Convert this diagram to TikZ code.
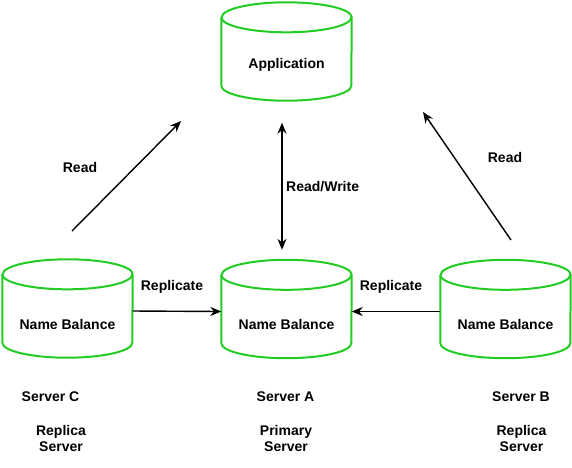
\documentclass[tikz,border=0pt]{standalone}
\usepackage{fontspec}
\setmainfont{Liberation Sans}
\usetikzlibrary{arrows.meta}
\definecolor{cylgreen}{RGB}{34,204,34}
\tikzset{
  cylbox/.style={rectangle, minimum width=130pt, minimum height=98pt, inner sep=0pt},
  cylline/.style={draw=cylgreen, line width=2pt},
  txt/.style={font=\fontsize{14}{16}\selectfont\bfseries, inner sep=0pt, align=center},
  arr/.style={line width=1.4pt, -{Stealth[length=11pt,width=9pt]}},
  darr/.style={line width=1.4pt, {Stealth[length=11pt,width=9pt]}-{Stealth[length=11pt,width=9pt]}}
}
\newcommand\drawcyl[1]{%
  \draw[cylline] ([yshift=-15pt]#1.north west) -- ([yshift=15pt]#1.south west)
     arc[start angle=180,end angle=360,x radius=65pt,y radius=15pt]
     -- ([yshift=-15pt]#1.north east)
     arc[start angle=0,end angle=180,x radius=65pt,y radius=15pt];
  \draw[cylline] ([yshift=-15pt]#1.north west)
     arc[start angle=180,end angle=360,x radius=65pt,y radius=15pt];
}
\begin{document}
\begin{tikzpicture}[x=1pt,y=1pt]
\useasboundingbox (0,0) rectangle (572,-467);
% cylinders
\node[cylbox] (app) at (286.5,-51.5) {};
\node[cylbox] (C) at (67.5,-308.5) {};
\node[cylbox] (A) at (286.5,-309) {};
\node[cylbox] (B) at (505.5,-309) {};
\drawcyl{app}
\drawcyl{C}
\drawcyl{A}
\drawcyl{B}
\node[txt] (appt) at (286.5,-65) {Application};
\node[txt] (Ct) at (67.5,-324) {Name Balance};
\node[txt] (At) at (286.5,-324) {Name Balance};
\node[txt] (Bt) at (505.5,-324) {Name Balance};
% connectors
\draw[arr] ([yshift=-2.5pt]C.east) -- ([yshift=-2.5pt]A.west);
\draw[arr] ([yshift=-2.5pt]B.west) -- ([yshift=-2.5pt]A.east);
\draw[darr] ([xshift=-4.5pt,yshift=-22pt]app.south) -- ([xshift=-4.5pt,yshift=10pt]A.north);
\coordinate (cread) at (72,-231);
\coordinate (appl) at (181,-121);
\coordinate (bread) at (511,-240);
\coordinate (appr) at (423,-112);
\draw[arr] (cread) -- (appl);
\draw[arr] (bread) -- (appr);
% labels
\node[txt] (rl) at (80,-167) {Read};
\node[txt] (rr) at (505,-157) {Read};
\node[txt] (rep1) at (172,-287) {Replicate};
\node[txt] (rep2) at (391,-287) {Replicate};
\node[txt,anchor=west] (rw) at (286,-187) {Read/Write};
\node[txt] (sc) at (50.5,-397) {Server C};
\node[txt] (sa) at (285.5,-397) {Server A};
\node[txt] (sb) at (521,-397) {Server B};
\node[txt] (rc) at (61,-438) {Replica\\Server};
\node[txt] (pa) at (286,-438) {Primary\\Server};
\node[txt] (rb) at (521.5,-438) {Replica\\Server};
\end{tikzpicture}
\end{document}
